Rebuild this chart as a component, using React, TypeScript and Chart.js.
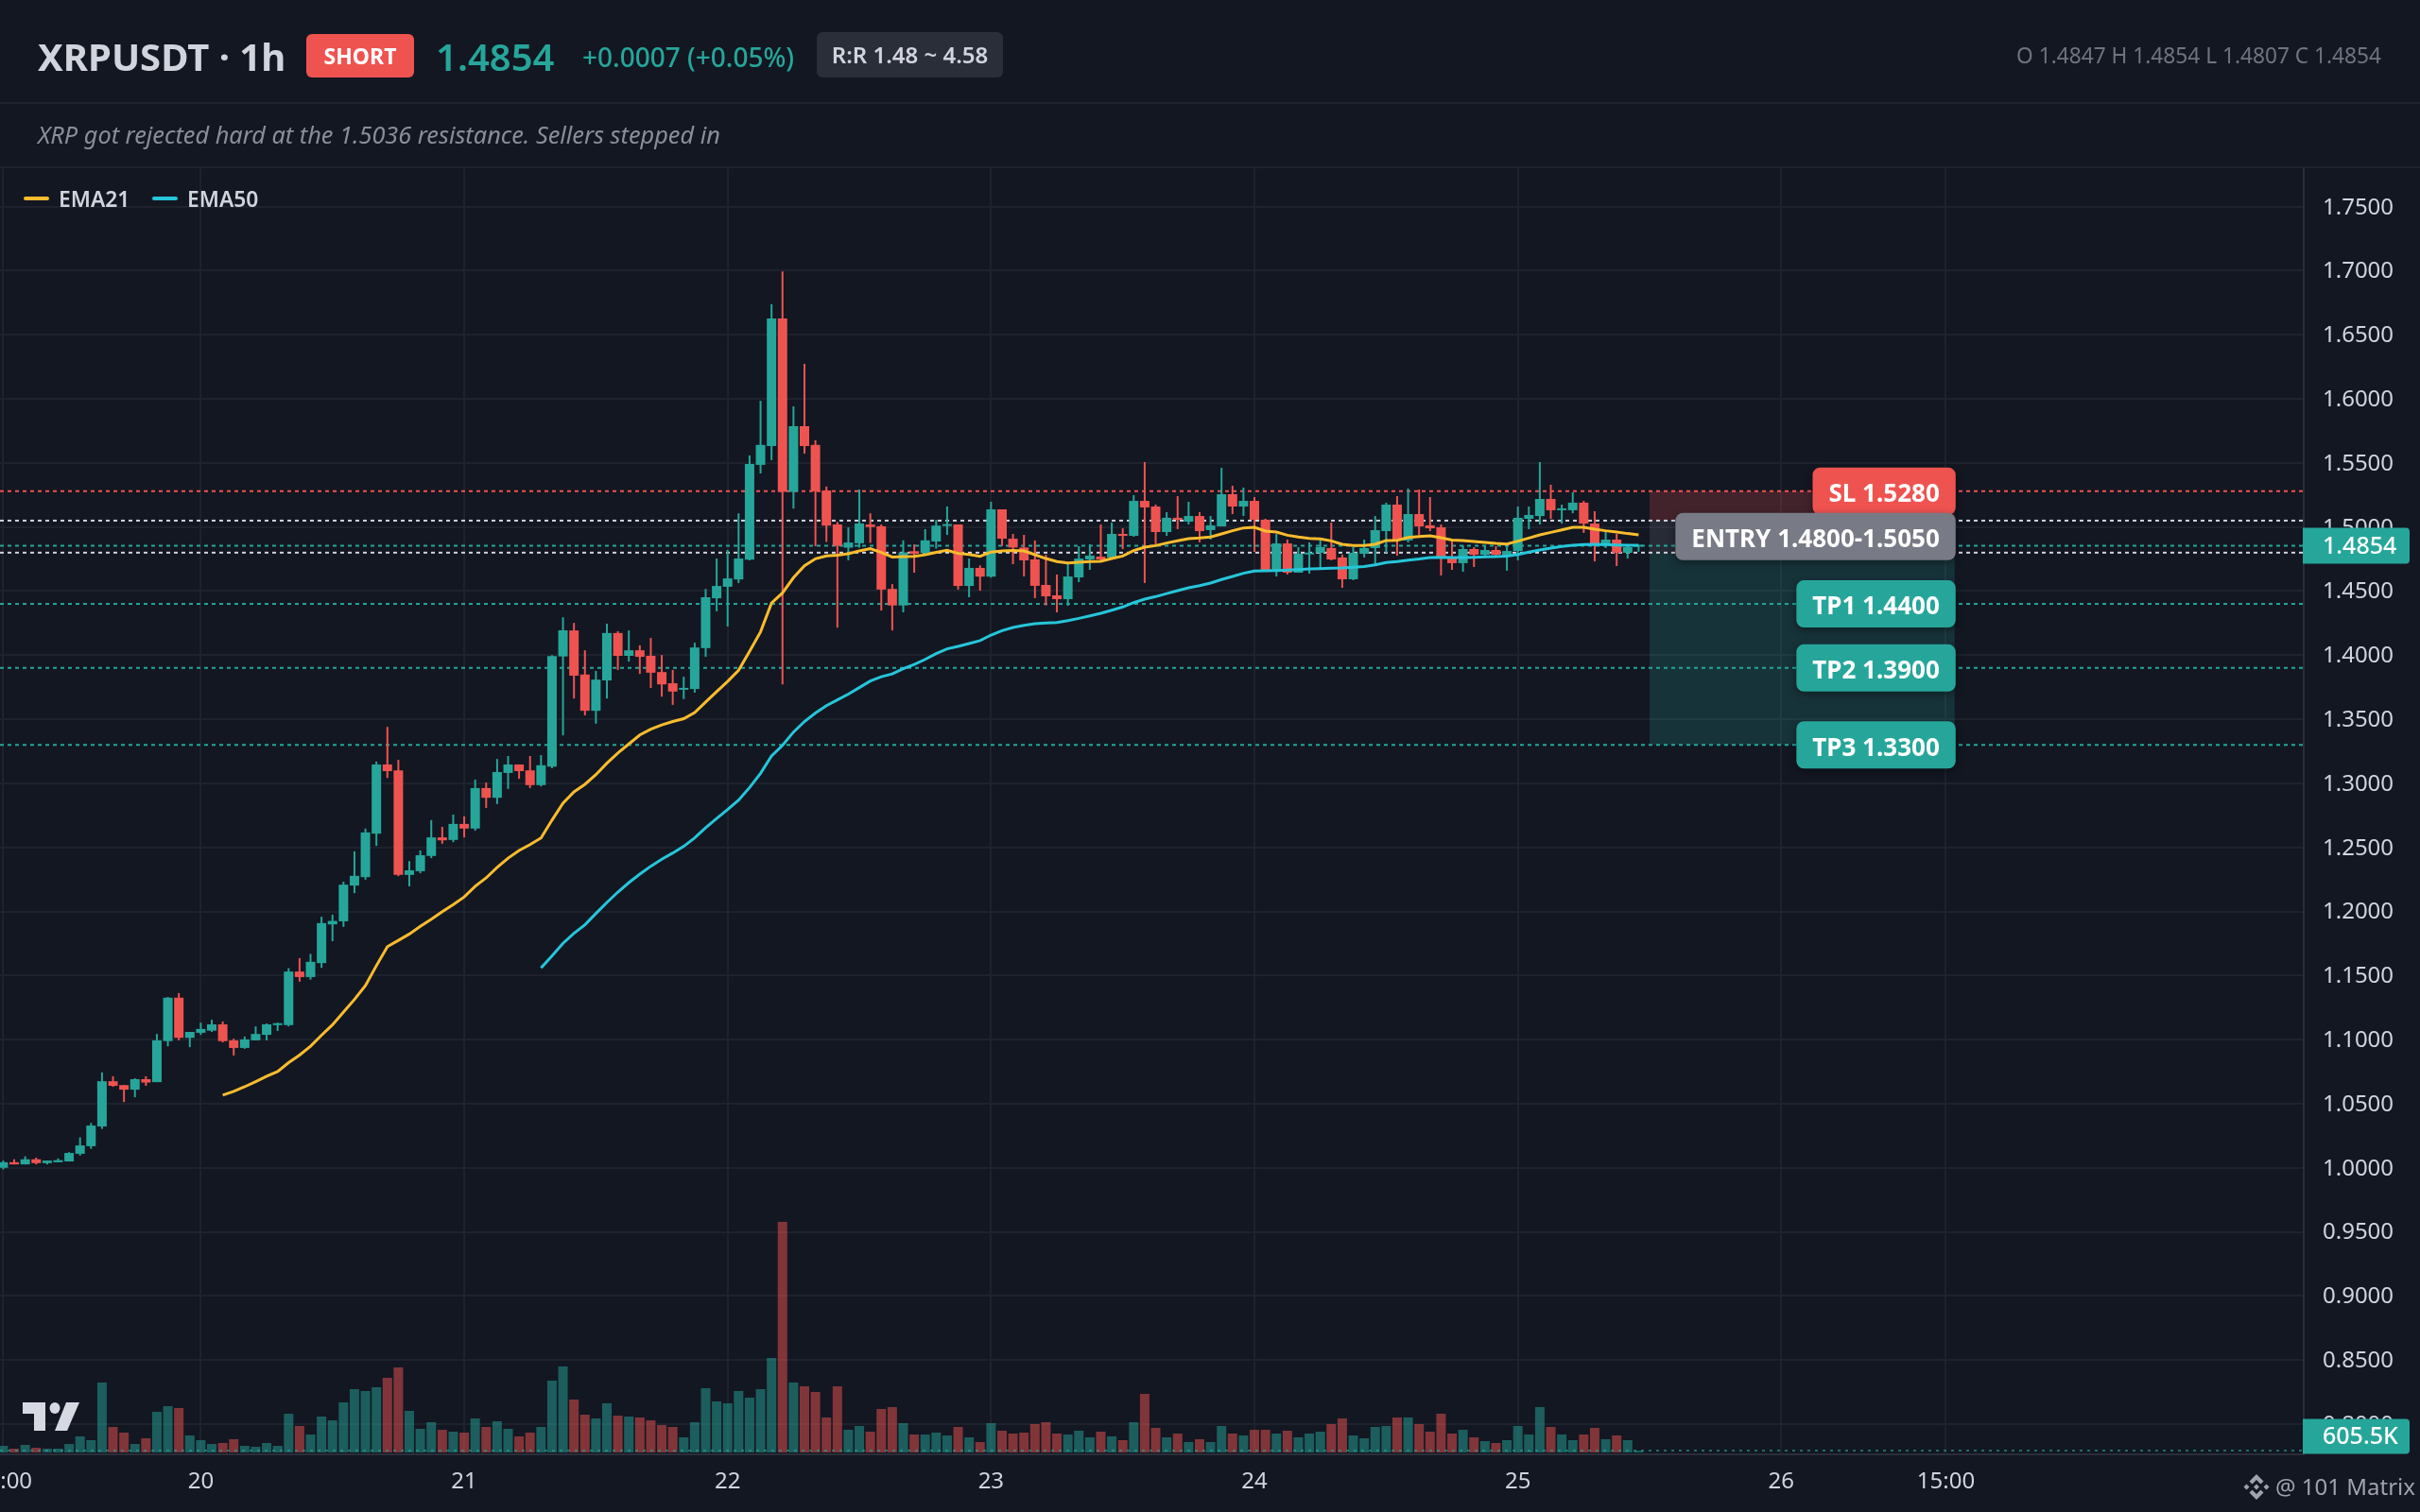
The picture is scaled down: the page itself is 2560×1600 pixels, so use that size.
import React, { useEffect, useRef } from "react";
import { Chart, registerables } from "chart.js";

Chart.register(...registerables);

const firstHour = -18;

const opens = [1.0000,1.0043,1.0026,1.0066,1.0036,1.0043,1.0049,1.0109,1.0168,1.0322,1.0675,1.0645,1.0609,1.0691,1.0668,1.0988,1.1327,1.1014,
1.1053,1.1070,1.1119,1.0994,1.0935,1.0994,1.1037,1.1113,1.1113,1.1531,1.1488,1.1597,1.1899,1.1923,1.2202,1.2268,1.2607,1.3147,1.3101,1.2285,1.2314,1.2433,1.2578,1.2558,
1.2683,1.2647,1.2963,1.2887,1.3081,1.3147,1.3101,1.2986,1.3131,1.3990,1.4193,1.3849,1.3566,1.3803,1.4173,1.3995,1.4038,1.3995,1.3868,1.3781,1.3730,1.3736,1.4055,1.4444,
1.4534,1.4591,1.4746,1.5485,1.5632,1.6628,1.5274,1.5787,1.5641,1.5285,1.5020,1.4839,1.4873,1.5020,1.5006,1.4517,1.4388,1.4811,1.4797,1.4887,1.5008,1.5020,1.4540,1.4681,
1.4613,1.5138,1.4909,1.4840,1.4747,1.4548,1.4467,1.4437,1.4607,1.4747,1.4769,1.4762,1.4946,1.4931,1.5204,1.5160,1.4961,1.5072,1.5042,1.5086,1.4976,1.5005,1.5256,1.5160,
1.5204,1.5057,1.4659,1.4872,1.4644,1.4786,1.4799,1.4836,1.4762,1.4592,1.4791,1.4836,1.4968,1.5175,1.4895,1.5101,1.5013,1.4998,1.4762,1.4718,1.4828,1.4784,1.4821,1.4777,
1.4813,1.5064,1.5086,1.5219,1.5131,1.5131,1.5190,1.5027,1.4858,1.4902,1.4799,1.4847];
const highs = [1.0056,1.0066,1.0089,1.0079,1.0056,1.0072,1.0122,1.0237,1.0349,1.0744,1.0714,1.0645,1.0698,1.0714,1.1044,1.1333,1.1363,1.1060,
1.1132,1.1155,1.1142,1.1007,1.1024,1.1103,1.1126,1.1132,1.1557,1.1636,1.1669,1.1959,1.1975,1.2232,1.2469,1.2647,1.3170,1.3440,1.3183,1.2393,1.2476,1.2713,1.2660,1.2756,
1.2742,1.3029,1.3006,1.3190,1.3213,1.3147,1.3213,1.3220,1.4000,1.4296,1.4252,1.4038,1.3877,1.4246,1.4187,1.4193,1.4077,1.4134,1.4001,1.3885,1.3832,1.4097,1.4517,1.4754,
1.4822,1.5107,1.5559,1.5985,1.6738,1.6995,1.5942,1.6273,1.5677,1.5316,1.5039,1.4997,1.5293,1.5107,1.5020,1.4554,1.4896,1.4864,1.4983,1.5056,1.5161,1.5020,1.4754,1.4701,
1.5197,1.5138,1.4946,1.4939,1.4895,1.4784,1.4629,1.4718,1.4850,1.4865,1.5020,1.5035,1.4990,1.5249,1.5507,1.5175,1.5116,1.5241,1.5197,1.5116,1.5086,1.5462,1.5322,1.5308,
1.5234,1.5064,1.4946,1.4902,1.4843,1.4880,1.4895,1.5035,1.4784,1.4843,1.4902,1.5086,1.5190,1.5241,1.5300,1.5293,1.5234,1.5020,1.4887,1.4858,1.4843,1.4858,1.4850,1.4850,
1.5160,1.5160,1.5507,1.5330,1.5175,1.5271,1.5204,1.5123,1.4961,1.4946,1.4865,1.4854];
const lows = [0.9987,1.0026,1.0026,1.0026,1.0026,1.0043,1.0049,1.0095,1.0148,1.0303,1.0632,1.0513,1.0550,1.0639,1.0668,1.0948,1.0994,1.0941,
1.1037,1.1060,1.0978,1.0876,1.0928,1.0994,1.0994,1.1067,1.1103,1.1452,1.1468,1.1560,1.1768,1.1880,1.2143,1.2248,1.2512,1.3042,1.2275,1.2196,1.2298,1.2416,1.2528,1.2541,
1.2578,1.2630,1.2808,1.2838,1.2956,1.3035,1.2963,1.2976,1.3118,1.3374,1.3662,1.3530,1.3465,1.3662,1.3885,1.3950,1.3854,1.3744,1.3676,1.3612,1.3657,1.3707,1.3987,1.4342,
1.4224,1.4563,1.4740,1.5418,1.5522,1.3772,1.5144,1.5573,1.4850,1.4884,1.4215,1.4740,1.4839,1.4876,1.4348,1.4193,1.4334,1.4644,1.4783,1.4831,1.4938,1.4512,1.4452,1.4503,
1.4605,1.4853,1.4710,1.4614,1.4445,1.4388,1.4334,1.4386,1.4570,1.4666,1.4740,1.4747,1.4828,1.4924,1.4563,1.4850,1.4931,1.4983,1.5020,1.4880,1.4902,1.5005,1.5101,1.5086,
1.4806,1.4651,1.4614,1.4629,1.4644,1.4636,1.4681,1.4740,1.4526,1.4585,1.4762,1.4710,1.4799,1.4777,1.4880,1.4939,1.4968,1.4622,1.4666,1.4651,1.4688,1.4769,1.4769,1.4659,
1.4740,1.4983,1.5020,1.5064,1.5027,1.5108,1.4954,1.4732,1.4836,1.4696,1.4754,1.4807];
const closes = [1.0043,1.0026,1.0066,1.0036,1.0056,1.0059,1.0115,1.0174,1.0329,1.0675,1.0639,1.0609,1.0691,1.0665,1.0994,1.1327,1.1014,1.1060,
1.1083,1.1119,1.0988,1.0935,1.1001,1.1044,1.1119,1.1126,1.1531,1.1488,1.1607,1.1909,1.1926,1.2209,1.2278,1.2617,1.3147,1.3095,1.2285,1.2321,1.2439,1.2578,1.2555,1.2683,
1.2647,1.2963,1.2887,1.3088,1.3147,1.3095,1.2986,1.3141,1.3993,1.4194,1.3840,1.3566,1.3809,1.4173,1.3995,1.4038,1.3987,1.3863,1.3772,1.3716,1.3741,1.4060,1.4452,1.4540,
1.4599,1.4754,1.5491,1.5641,1.6628,1.5274,1.5787,1.5632,1.5279,1.5011,1.4853,1.4879,1.5028,1.5000,1.4512,1.4388,1.4802,1.4791,1.4896,1.5011,1.5020,1.4540,1.4681,1.4613,
1.5138,1.4909,1.4840,1.4740,1.4541,1.4459,1.4437,1.4614,1.4754,1.4777,1.4747,1.4946,1.4931,1.5204,1.5153,1.4961,1.5072,1.5057,1.5086,1.4968,1.5013,1.5256,1.5160,1.5204,
1.5057,1.4659,1.4872,1.4644,1.4791,1.4799,1.4843,1.4747,1.4592,1.4799,1.4836,1.4976,1.5175,1.4902,1.5101,1.5005,1.4990,1.4769,1.4718,1.4828,1.4784,1.4821,1.4784,1.4813,
1.5072,1.5094,1.5219,1.5131,1.5138,1.5190,1.5027,1.4865,1.4902,1.4799,1.4843,1.4854];
const volumesM = [2.1,1.2,2.4,1.5,1.2,1.2,2.7,5.1,3.9,22.2,8.1,6.3,2.7,4.5,12.9,14.7,14.1,5.4,
3.9,2.7,3.0,4.2,2.1,1.8,3.0,2.1,12.3,8.4,5.7,11.4,10.2,15.9,20.1,19.5,20.7,23.7,27.0,13.2,7.5,9.6,7.2,6.6,
6.3,10.8,8.1,9.9,7.5,5.1,6.3,8.1,22.8,27.3,16.8,12.0,10.8,15.6,11.7,11.4,11.1,10.2,8.7,8.1,4.8,9.6,20.4,16.2,
15.6,19.5,17.4,20.1,30.0,73.2,22.2,21.0,19.2,11.1,21.0,7.2,8.4,6.6,13.8,14.4,9.3,5.7,5.7,6.3,5.4,8.1,4.8,3.3,
9.3,6.9,6.0,6.3,9.0,9.6,6.0,5.7,6.9,4.8,6.6,5.1,3.9,9.6,18.6,7.8,4.8,6.0,3.3,4.2,3.3,8.4,6.0,5.4,
7.2,7.2,6.0,6.9,4.8,6.0,6.6,9.0,10.8,5.4,4.5,8.1,8.4,11.1,11.1,9.0,6.6,12.3,6.0,7.2,4.8,3.6,3.0,3.9,
8.4,5.7,14.4,8.1,5.7,3.9,5.7,7.8,4.2,5.4,3.9,0.6055];

const ema21Start = 2;
const ema21 = [1.0566,1.0596,1.0632,1.0672,1.0714,1.0750,1.0820,1.0879,1.0948,1.1034,1.1116,1.1215,1.1313,1.1422,1.1577,1.1725,1.1774,1.1824,1.1883,1.1939,1.1998,1.2054,1.2113,1.2196,1.2262,1.2344,1.2416,1.2476,1.2522,1.2574,1.2713,1.2844,1.2933,1.2992,1.3068,1.3157,
1.3236,1.3307,1.3377,1.3422,1.3456,1.3482,1.3504,1.3552,1.3634,1.3716,1.3795,1.3882,1.4029,1.4182,1.4407,1.4486,1.4605,1.4698,1.4752,1.4774,1.4780,1.4791,1.4814,1.4831,1.4802,1.4766,1.4769,1.4771,1.4783,1.4802,1.4819,1.4794,1.4785,1.4771,1.4805,1.4814,
1.4818,1.4813,1.4784,1.4754,1.4730,1.4720,1.4725,1.4730,1.4732,1.4754,1.4774,1.4816,1.4843,1.4855,1.4875,1.4892,1.4909,1.4914,1.4922,1.4946,1.4971,1.4993,1.4998,1.4968,1.4961,1.4936,1.4922,1.4912,1.4907,1.4892,1.4865,1.4855,1.4855,1.4865,1.4895,1.4897,1.4919,1.4926,1.4931,1.4917,1.4899,
1.4895,1.4887,1.4880,1.4872,1.4867,1.4890,1.4914,1.4939,1.4958,1.4978,1.4998,1.4998,1.4983,1.4971,1.4961,1.4949,1.4939];
const ema50Start = 31;
const ema50 = [1.1560,1.1653,1.1751,1.1830,1.1896,1.1984,1.2070,1.2151,1.2225,1.2291,1.2353,1.2407,1.2456,1.2508,1.2574,1.2653,1.2726,1.2795,1.2869,1.2967,1.3078,1.3213,1.3296,1.3400,1.3482,1.3549,1.3606,1.3651,1.3696,1.3747,1.3798,1.3832,1.3854,1.3894,1.3928,1.3967,1.4012,1.4049,1.4069,1.4091,1.4114,
1.4157,1.4191,1.4216,1.4233,1.4246,1.4251,1.4255,1.4270,1.4287,1.4307,1.4327,1.4351,1.4376,1.4410,1.4437,1.4457,1.4481,1.4504,1.4526,1.4543,1.4563,1.4590,1.4614,1.4639,1.4656,1.4659,1.4661,1.4664,1.4668,1.4673,1.4676,1.4678,1.4681,1.4686,1.4691,1.4705,1.4723,1.4730,1.4742,1.4750,1.4762,1.4764,1.4762,
1.4762,1.4764,1.4767,1.4769,1.4772,1.4786,1.4804,1.4821,1.4836,1.4848,1.4858,1.4863,1.4865,1.4863,1.4860,1.4858,1.4858];

const priceTicks = [0.8,0.85,0.9,0.95,1.0,1.05,1.1,1.15,1.2,1.25,1.3,1.35,1.4,1.45,1.5,1.55,1.6,1.65,1.7,1.75];
const timeTicks = [-18,0,24,48,72,96,120,144,159];
const timeLabels = ["06:00","20","21","22","23","24","25","26","15:00"];

const slPrice = 1.528;
const entryHigh = 1.505;
const entryLow = 1.48;
const tpPrices = [1.44,1.39,1.33];
const lastPrice = 1.4854;
const lastVolumeM = 0.6055;
const zoneFromHour = 132;
const zoneToHour = 159.8;
const xRange = [-18.294,191.6];
const yRange = [0.77633,1.78075];
const volumeRange = [-0.6,408];

const GREEN = "#26a69a";
const RED = "#ef5350";
const GREY = "#787b86";
const WHITE = "#d1d4dc";
const BG = "#131722";
const GRID = "#1e222d";
const AXIS = "#2a2e39";
const FONT = '"Noto Sans", sans-serif';

const hours = opens.map((_, i) => firstHour + i);
const isUp = opens.map((o, i) => closes[i] >= o);
const candleColors = isUp.map((u) => (u ? GREEN : RED));
const volumeColors = isUp.map((u) => (u ? "rgba(38,166,154,0.5)" : "rgba(239,83,80,0.5)"));

const tradeTags = [
  { text: "SL 1.5280", price: slPrice, color: RED },
  { text: "ENTRY 1.4800-1.5050", price: (entryHigh + entryLow) / 2, color: GREY },
  { text: "TP1 1.4400", price: tpPrices[0], color: GREEN },
  { text: "TP2 1.3900", price: tpPrices[1], color: GREEN },
  { text: "TP3 1.3300", price: tpPrices[2], color: GREEN },
];

const level = (price: number, color: string, axis = "y", dash = [4, 4]) => ({
  type: "line" as const,
  yAxisID: axis,
  data: [
    { x: xRange[0], y: price },
    { x: xRange[1], y: price },
  ],
  borderColor: color,
  borderWidth: 2,
  borderDash: dash,
  pointRadius: 0,
  order: 4,
});

const overlays = {
  id: "overlays",
  beforeDatasetsDraw(chart: any) {
    const { ctx, scales } = chart;
    const x0 = scales.x.getPixelForValue(zoneFromHour);
    const x1 = scales.x.getPixelForValue(zoneToHour);
    const band = (a: number, b: number, c: string) => {
      const ya = scales.y.getPixelForValue(a);
      const yb = scales.y.getPixelForValue(b);
      ctx.fillStyle = c;
      ctx.fillRect(x0, ya, x1 - x0, yb - ya);
    };
    band(slPrice, entryHigh, "rgba(239,83,80,0.22)");
    band(entryHigh, entryLow, "rgba(120,123,134,0.2)");
    band(entryLow, tpPrices[2], "rgba(38,166,154,0.2)");
  },
  afterDatasetsDraw(chart: any) {
    const { ctx, scales, chartArea } = chart;
    const tagRight = scales.x.getPixelForValue(zoneToHour) + 1;
    ctx.save();
    ctx.textBaseline = "middle";
    ctx.font = `700 26px ${FONT}`;
    for (const t of tradeTags) {
      const y = scales.y.getPixelForValue(t.price);
      const w = ctx.measureText(t.text).width + 34;
      ctx.save();
      ctx.shadowColor = "rgba(0,0,0,0.4)";
      ctx.shadowBlur = 10;
      ctx.shadowOffsetY = 3;
      ctx.fillStyle = t.color;
      ctx.beginPath();
      ctx.roundRect(tagRight - w, y - 25, w, 50, 8);
      ctx.fill();
      ctx.restore();
      ctx.fillStyle = "#ffffff";
      ctx.textAlign = "right";
      ctx.fillText(t.text, tagRight - 17, y + 4);
    }
    const axisTag = (y: number, h: number, text: string) => {
      ctx.fillStyle = GREEN;
      ctx.beginPath();
      ctx.roundRect(chartArea.right - 1, y - h / 2, 113, h, [0, 4, 4, 0]);
      ctx.fill();
      ctx.fillStyle = "#ffffff";
      ctx.textAlign = "left";
      ctx.font = `500 25px ${FONT}`;
      ctx.fillText(text, chartArea.right + 20, y + 1);
    };
    axisTag(scales.y.getPixelForValue(lastPrice), 38, lastPrice.toFixed(4));
    axisTag(scales.v.getPixelForValue(lastVolumeM) - 15, 37, (lastVolumeM * 1000).toFixed(1) + "K");
    ctx.restore();
  },
};

export default function App() {
  const ref = useRef<HTMLCanvasElement>(null);
  useEffect(() => {
    const chart = new Chart(ref.current as HTMLCanvasElement, {
      type: "bar",
      data: {
        datasets: [
          {
            type: "bar",
            yAxisID: "v",
            data: hours.map((x, i) => ({ x, y: volumesM[i] })),
            backgroundColor: volumeColors,
            barThickness: 10,
            grouped: false,
            inflateAmount: 0,
            order: 5,
          },
          level(slPrice, RED),
          level(entryHigh, WHITE),
          level(entryLow, WHITE),
          level(tpPrices[0], GREEN),
          level(tpPrices[1], GREEN),
          level(tpPrices[2], GREEN),
          level(lastPrice, GREEN),
          level(lastVolumeM, "rgba(38,166,154,0.6)", "v", [3, 5]),
          {
            type: "bar",
            yAxisID: "y",
            data: hours.map((x, i) => ({ x, y: [lows[i], highs[i]] })),
            backgroundColor: candleColors,
            barThickness: 2,
            grouped: false,
            inflateAmount: 0,
            order: 3,
          },
          {
            type: "bar",
            yAxisID: "y",
            data: hours.map((x, i) => ({ x, y: [opens[i], closes[i]] })),
            backgroundColor: candleColors,
            barThickness: 10,
            grouped: false,
            minBarLength: 2,
            inflateAmount: 0,
            order: 2,
          },
          {
            type: "line",
            yAxisID: "y",
            data: ema50.map((y, i) => ({ x: ema50Start + i, y })),
            borderColor: "#26c6da",
            borderWidth: 3,
            pointRadius: 0,
            order: 1,
          },
          {
            type: "line",
            yAxisID: "y",
            data: ema21.map((y, i) => ({ x: ema21Start + i, y })),
            borderColor: "#fbbc2d",
            borderWidth: 3,
            pointRadius: 0,
            order: 0,
          },
        ] as any,
      },
      options: {
        responsive: false,
        animation: false,
        devicePixelRatio: 1,
        layout: { padding: { top: 177, left: 0, right: 0, bottom: 0 } },
        plugins: { legend: { display: false }, tooltip: { enabled: false } },
        scales: {
          x: {
            type: "linear",
            offset: false,
            min: xRange[0],
            max: xRange[1],
            grid: { color: GRID, lineWidth: 2, drawTicks: false, offset: false },
            border: { color: AXIS, width: 2 },
            afterBuildTicks: (s: any) => {
              s.ticks = timeTicks.map((value) => ({ value }));
            },
            afterFit: (s: any) => {
              s.height = 61;
              s.paddingLeft = 0;
              s.paddingRight = 0;
            },
            ticks: {
              autoSkip: false,
              maxRotation: 0,
              padding: 15,
              color: WHITE,
              font: { family: FONT, size: 24 },
              callback: (v: any) => timeLabels[timeTicks.indexOf(v)],
            },
          },
          y: {
            type: "linear",
            position: "right",
            min: yRange[0],
            max: yRange[1],
            grid: { color: GRID, lineWidth: 2, drawTicks: false },
            border: { color: AXIS, width: 2 },
            afterBuildTicks: (s: any) => {
              s.ticks = priceTicks.map((value) => ({ value }));
            },
            afterFit: (s: any) => {
              s.width = 123;
              s.paddingTop = 0;
              s.paddingBottom = 0;
            },
            ticks: {
              autoSkip: false,
              padding: 20,
              labelOffset: 1,
              color: WHITE,
              font: { family: FONT, size: 24 },
              callback: (v: any) => Number(v).toFixed(4),
            },
          },
          v: {
            type: "linear",
            display: false,
            position: "right",
            min: volumeRange[0],
            max: volumeRange[1],
            grid: { display: false },
          },
        },
      } as any,
      plugins: [overlays],
    });
    return () => chart.destroy();
  }, []);

  const abs = (s: React.CSSProperties): React.CSSProperties => ({
    position: "absolute",
    whiteSpace: "nowrap",
    lineHeight: 1,
    ...s,
  });

  return (
    <div style={{ position: "relative", width: 2560, height: 1600, overflow: "hidden", background: BG, fontFamily: FONT }}>
      <style>{`body{margin:0;background:${BG}}`}</style>
      <canvas ref={ref} width={2560} height={1600} style={{ position: "absolute", left: 0, top: 0, display: "block" }} />

      <div style={abs({ left: 0, top: 107.5, width: 2560, height: 2, background: GRID })} />
      <div style={abs({ left: 0, top: 175.5, width: 2560, height: 2, background: GRID })} />

      <div style={abs({ left: 40, top: 40, fontSize: 40, fontWeight: 700, color: WHITE })}>XRPUSDT · 1h</div>
      <div
        style={abs({
          left: 324,
          top: 36,
          width: 114,
          height: 46,
          borderRadius: 6,
          background: RED,
          color: "#fff",
          fontSize: 23,
          fontWeight: 700,
          display: "flex",
          alignItems: "center",
          justifyContent: "center",
        })}
      >
        SHORT
      </div>
      <div style={abs({ left: 461, top: 40, fontSize: 40, fontWeight: 600, color: GREEN })}>1.4854</div>
      <div style={abs({ left: 616, top: 46, fontSize: 28, fontWeight: 500, color: GREEN })}>+0.0007 (+0.05%)</div>
      <div
        style={abs({
          left: 864,
          top: 34,
          width: 197,
          height: 48,
          borderRadius: 6,
          background: AXIS,
          color: WHITE,
          fontSize: 24,
          fontWeight: 600,
          display: "flex",
          alignItems: "center",
          justifyContent: "center",
        })}
      >
        R:R 1.48 ~ 4.58
      </div>
      <div style={abs({ right: 41, top: 48, fontSize: 22.7, color: "#6f7480" })}>O 1.4847 H 1.4854 L 1.4807 C 1.4854</div>
      <div style={abs({ left: 40, top: 130, fontSize: 25.3, fontStyle: "italic", color: "#8a8e99" })}>
        XRP got rejected hard at the 1.5036 resistance. Sellers stepped in
      </div>

      <div style={abs({ left: 25, top: 208, width: 27, height: 4, borderRadius: 2, background: "#fbbc2d" })} />
      <div style={abs({ left: 62, top: 200, fontSize: 22.8, fontWeight: 600, color: WHITE })}>EMA21</div>
      <div style={abs({ left: 161, top: 208, width: 27, height: 4, borderRadius: 2, background: "#26c6da" })} />
      <div style={abs({ left: 198, top: 200, fontSize: 22.8, fontWeight: 600, color: WHITE })}>EMA50</div>

      <svg style={abs({ left: 0, top: 0 })} width={2560} height={1600} viewBox="0 0 2560 1600">
        <g fill="#d7d9e2">
          <path d="M24 1484H48V1514H36V1496H24Z" />
          <ellipse cx={58} cy={1490} rx={5.5} ry={6} />
          <path d="M70 1484H84L71 1514H58Z" />
        </g>
        <g fill="#a0a3ad">
          <path d="M2387 1560L2394.5 1567.5L2391.5 1570.5L2387 1566L2382.5 1570.5L2379.5 1567.5Z" />
          <path d="M2387 1587L2394.5 1579.5L2391.5 1576.5L2387 1581L2382.5 1576.5L2379.5 1579.5Z" />
          <path d="M2387 1570.5L2390 1573.5L2387 1576.5L2384 1573.5Z" />
          <path d="M2376.5 1570.5L2379.5 1573.5L2376.5 1576.5L2373.5 1573.5Z" />
          <path d="M2397.5 1570.5L2400.5 1573.5L2397.5 1576.5L2394.5 1573.5Z" />
        </g>
      </svg>
      <div style={abs({ left: 2407, top: 1561, fontSize: 24, color: "#a0a3ad" })}>@ 101 Matrix</div>
    </div>
  );
}
